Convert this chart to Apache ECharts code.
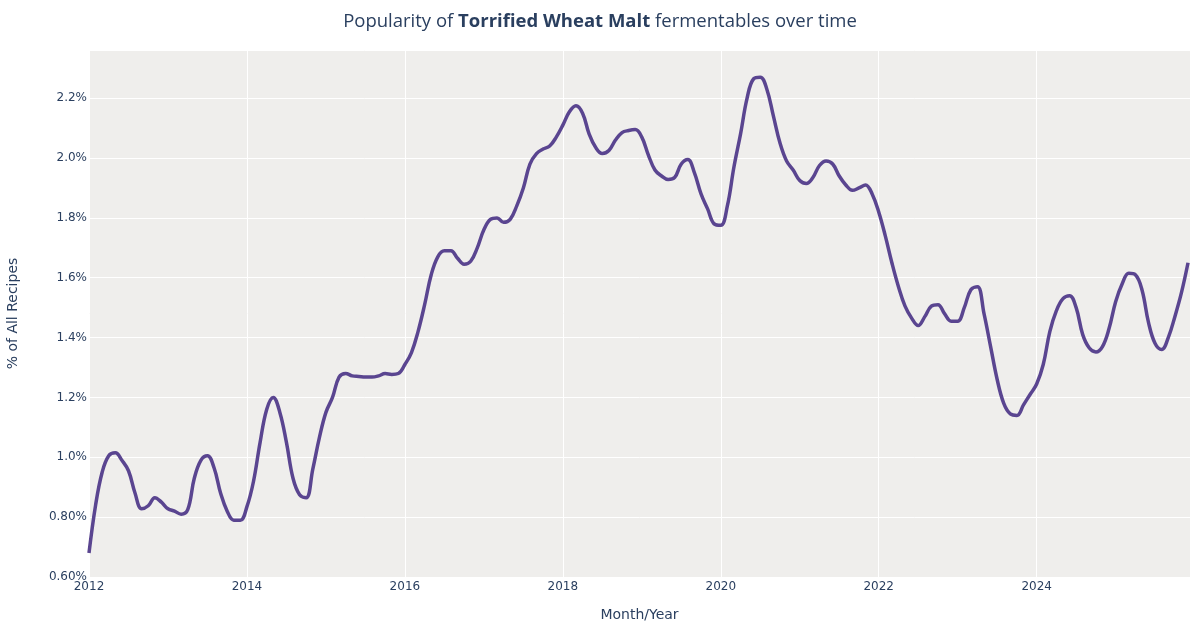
<!DOCTYPE html>
<html>
<head>
<meta charset="utf-8">
<title>Torrified Wheat Malt popularity</title>
<script src="https://cdn.jsdelivr.net/npm/echarts@6/dist/echarts.min.js"></script>
<style>
  html, body { margin: 0; padding: 0; background: #fff; }
  #chartdiv { width: 1200px; height: 630px; }
</style>
</head>
<body>
<div id="chartdiv"></div>
<script>
// monthly share of recipes (%), one array per year, Jan..Dec
var years = [2012, 2013, 2014, 2015, 2016, 2017, 2018, 2019, 2020, 2021, 2022, 2023, 2024, 2025];
var v2012 = [0.68, 0.84, 0.95, 1.005, 1.015, 0.99, 0.955, 0.88, 0.828, 0.838, 0.865, 0.85];
var v2013 = [0.828, 0.82, 0.81, 0.825, 0.93, 0.99, 1.005, 0.965, 0.88, 0.82, 0.79, 0.79];
var v2014 = [0.835, 0.92, 1.05, 1.16, 1.20, 1.15, 1.05, 0.93, 0.875, 0.865, 0.96, 1.065];
var v2015 = [1.15, 1.20, 1.268, 1.28, 1.272, 1.27, 1.268, 1.268, 1.272, 1.28, 1.277, 1.28];
var v2016 = [1.31, 1.35, 1.42, 1.51, 1.61, 1.67, 1.69, 1.69, 1.665, 1.645, 1.655, 1.70];
var v2017 = [1.76, 1.795, 1.80, 1.785, 1.795, 1.84, 1.90, 1.98, 2.015, 2.03, 2.04, 2.07];
var v2018 = [2.11, 2.155, 2.175, 2.15, 2.08, 2.035, 2.015, 2.025, 2.06, 2.085, 2.092, 2.095];
var v2019 = [2.07, 2.01, 1.96, 1.94, 1.928, 1.935, 1.98, 1.995, 1.95, 1.88, 1.83, 1.78];
var v2020 = [1.775, 1.84, 1.97, 2.08, 2.20, 2.265, 2.27, 2.23, 2.14, 2.05, 1.99, 1.96];
var v2021 = [1.925, 1.915, 1.935, 1.975, 1.99, 1.98, 1.94, 1.91, 1.892, 1.90, 1.91, 1.88];
var v2022 = [1.82, 1.74, 1.65, 1.57, 1.505, 1.465, 1.44, 1.47, 1.505, 1.51, 1.48, 1.455];
var v2023 = [1.455, 1.50, 1.56, 1.57, 1.48, 1.37, 1.26, 1.18, 1.145, 1.14, 1.175, 1.21];
var v2024 = [1.245, 1.31, 1.42, 1.49, 1.53, 1.54, 1.50, 1.41, 1.365, 1.352, 1.37, 1.43];
var v2025 = [1.52, 1.58, 1.615, 1.61, 1.56, 1.45, 1.38, 1.36, 1.40, 1.47, 1.55, 1.65];
var yTicks = [0.6, 0.8, 1.0, 1.2, 1.4, 1.6, 1.8, 2.0, 2.2];

var byYear = [v2012, v2013, v2014, v2015, v2016, v2017, v2018, v2019, v2020, v2021, v2022, v2023, v2024, v2025];

// [decimal year, value]
var points = [];
byYear.forEach(function (arr, i) {
    arr.forEach(function (v, m) {
        points.push([years[i] + m / 12, v]);
    });
});

var textColor = '#2a3f5f';
var axisFont = 'DejaVu Sans';

var chart = echarts.init(document.getElementById('chartdiv'), null, {renderer: 'canvas'});

chart.setOption({
    backgroundColor: '#ffffff',
    animation: false,
    title: {
        text: '{n|Popularity of }{b|Torrified Wheat Malt}{n| fermentables over time}',
        left: 'center',
        top: 7,
        textStyle: {
            rich: {
                n: {fontFamily: 'Open Sans', fontSize: 18.5, fontWeight: 'normal', color: textColor},
                b: {fontFamily: 'Open Sans', fontSize: 18.5, fontWeight: 'bold', color: textColor}
            }
        }
    },
    grid: {
        left: 89,
        right: 10,
        top: 50,
        bottom: 53,
        outerBoundsMode: 'none',
        containLabel: false,
        show: true,
        backgroundColor: '#efeeec',
        borderWidth: 0
    },
    xAxis: {
        type: 'value',
        min: 2012,
        max: 2012 + 167.3 / 12,
        interval: 2,
        name: 'Month/Year',
        nameLocation: 'middle',
        nameGap: 31,
        nameTextStyle: {fontFamily: axisFont, fontSize: 14, color: textColor},
        axisLine: {show: false},
        axisTick: {show: false},
        axisLabel: {
            showMaxLabel: false,
            margin: 4,
            fontFamily: axisFont,
            fontSize: 12,
            color: textColor,
            formatter: function (v) { return String(Math.round(v)); }
        },
        splitLine: {show: true, lineStyle: {color: '#ffffff', width: 1}}
    },
    yAxis: {
        type: 'value',
        min: yTicks[0],
        max: 2.361,
        interval: 0.2,
        name: '% of All Recipes',
        nameLocation: 'middle',
        nameGap: 69,
        nameTextStyle: {fontFamily: axisFont, fontSize: 14, color: textColor},
        axisLine: {show: false},
        axisTick: {show: false},
        axisLabel: {
            showMaxLabel: false,
            margin: 2,
            fontFamily: axisFont,
            fontSize: 12,
            color: textColor,
            formatter: function (v) {
                return (v < 0.999 ? v.toFixed(2) : v.toFixed(1)) + '%';
            }
        },
        splitLine: {show: true, lineStyle: {color: '#ffffff', width: 1}}
    },
    series: [{
        type: 'line',
        data: points,
        smooth: 0.4,
        showSymbol: false,
        lineStyle: {color: '#5a4590', width: 3.5}
    }]
});
</script>
</body>
</html>
